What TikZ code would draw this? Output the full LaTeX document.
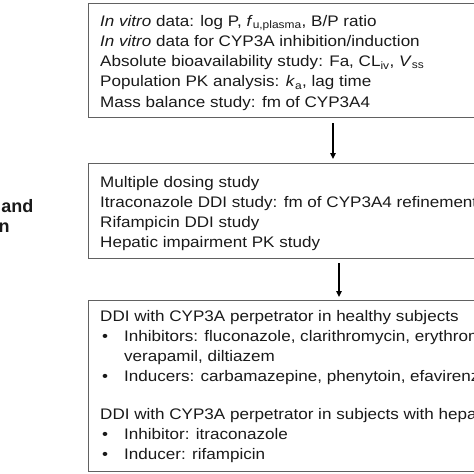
\documentclass[tikz,border=0pt]{standalone}
\usepackage{fontspec}
\setmainfont[FakeStretch=1.115]{Liberation Sans}
\newfontfamily\lblfont{Liberation Sans}
\usetikzlibrary{arrows.meta}
\tikzset{
  boxstyle/.style={draw=black!62, line width=1.4pt, rectangle, anchor=north west, inner sep=0, minimum width=600pt},
  ln/.style={anchor=base west, inner sep=0, font=\fontsize{15.3}{17}\selectfont, text=black!90},
  lbl/.style={anchor=base east, inner sep=0, font=\lblfont\fontsize{18}{20}\selectfont\bfseries, text=black!90},
  arr/.style={line width=1.4pt, -{Triangle[length=6pt,width=5.5pt]}}
}
\begin{document}
\begin{tikzpicture}[x=1pt,y=-1pt]
\useasboundingbox (0,0) rectangle (474,474);
\clip (0,0) rectangle (474,474);
% boxes
\node[boxstyle, minimum height=114pt] (b1) at (88,3) {};
\node[boxstyle, minimum height=95pt] (b2) at (88,163) {};
\node[boxstyle, minimum height=171pt] (b3) at (88,300) {};
% box 1 text
\node[ln] (t11) at (100,26) {\textit{In vitro} data: log P, \textit{f}\textsubscript{u,plasma}, B/P ratio};
\node[ln] (t12) at (100,46.3) {\textit{In vitro} data for CYP3A inhibition/induction};
\node[ln] (t13) at (100,66.6) {Absolute bioavailability study: Fa, CL\textsubscript{iv}, \textit{V}\textsubscript{ss}};
\node[ln] (t14) at (100,86.9) {Population PK analysis: \textit{k}\textsubscript{a}, lag time};
\node[ln] (t15) at (100,107.2) {Mass balance study: fm of CYP3A4};
% box 2 text
\node[ln] (t21) at (100,187) {Multiple dosing study};
\node[ln] (t22) at (100,207.3) {Itraconazole DDI study: fm of CYP3A4 refinement};
\node[ln] (t23) at (100,227.6) {Rifampicin DDI study};
\node[ln] (t24) at (100,247.9) {Hepatic impairment PK study};
% box 3 text
\node[ln] (t31) at (100,321) {DDI with CYP3A perpetrator in healthy subjects};
\node[ln] (u32) at (102,341.3) {•};
\node[ln] (t32) at (124,341.3) {Inhibitors: fluconazole, clarithromycin, erythromycin,};
\node[ln] (t33) at (124,361.6) {verapamil, diltiazem};
\node[ln] (u34) at (102,381.9) {•};
\node[ln] (t34) at (124,381.9) {Inducers: carbamazepine, phenytoin, efavirenz};
\node[ln] (t35) at (100,419) {DDI with CYP3A perpetrator in subjects with hepatic impairment};
\node[ln] (u36) at (102,439.3) {•};
\node[ln] (t36) at (124,439.3) {Inhibitor: itraconazole};
\node[ln] (u37) at (102,459.6) {•};
\node[ln] (t37) at (124,459.6) {Inducer: rifampicin};
% left label
\node[lbl] (l1) at (33.5,212) {and};
\node[lbl] (l2) at (9.8,232.5) {n};
% arrows
\coordinate (ax1) at (333,0);
\coordinate (ax2) at (339,0);
\draw[arr, shorten <=5pt, shorten >=4pt] (b1.south -| ax1) -- (b2.north -| ax1);
\draw[arr, shorten <=4pt, shorten >=3pt] (b2.south -| ax2) -- (b3.north -| ax2);
\end{tikzpicture}
\end{document}
